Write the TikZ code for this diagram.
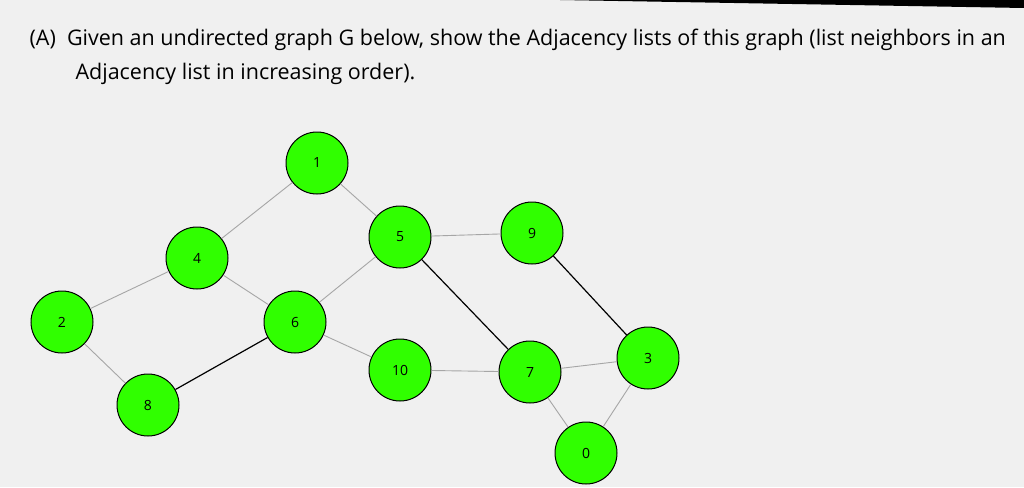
\documentclass[tikz,border=0pt]{standalone}
\usepackage{fontspec}
\setmainfont{Open Sans}
\begin{document}
\begin{tikzpicture}[x=1pt,y=-1pt,
  vtx/.style={circle,draw=black,line width=1pt,fill=green!75!lime,minimum size=62pt,inner sep=0pt,font=\fontsize{14}{16}\selectfont},
  lite/.style={draw=gray!70,line width=0.9pt},
  dark/.style={draw=black,line width=1.2pt}]
\fill[gray!12] (0,0) rectangle (1024,487);
\fill[black] (560,0) -- (1024,0) -- (1024,8) -- cycle;
\useasboundingbox (0,0) rectangle (1024,487);
\node[anchor=west,font=\fontsize{21.5}{26}\selectfont] (t1) at (26,40) {(A)\ \ Given an undirected graph G below, show the Adjacency lists of this graph (list neighbors in an};
\node[anchor=west,font=\fontsize{21.5}{26}\selectfont] (t2) at (72,74) {Adjacency list in increasing order).};
\node[vtx] (n1) at (317,163) {1};
\node[vtx] (n4) at (197,258) {4};
\node[vtx] (n5) at (400,237) {5};
\node[vtx] (n9) at (532,233) {9};
\node[vtx] (n2) at (62,322) {2};
\node[vtx] (n6) at (295,322) {6};
\node[vtx] (n10) at (400,370) {10};
\node[vtx] (n7) at (530,372) {7};
\node[vtx] (n3) at (648,358) {3};
\node[vtx] (n8) at (148,405) {8};
\node[vtx] (n0) at (586,453) {0};
\draw[lite] (n1)--(n4);
\draw[lite] (n1)--(n5);
\draw[lite] (n4)--(n2);
\draw[lite] (n4)--(n6);
\draw[lite] (n6)--(n5);
\draw[lite] (n5)--(n9);
\draw[dark] (n5)--(n7);
\draw[lite] (n6)--(n10);
\draw[lite] (n10)--(n7);
\draw[dark] (n9)--(n3);
\draw[lite] (n7)--(n3);
\draw[lite] (n7)--(n0);
\draw[lite] (n0)--(n3);
\draw[lite] (n2)--(n8);
\draw[dark] (n8)--(n6);
\end{tikzpicture}
\end{document}
